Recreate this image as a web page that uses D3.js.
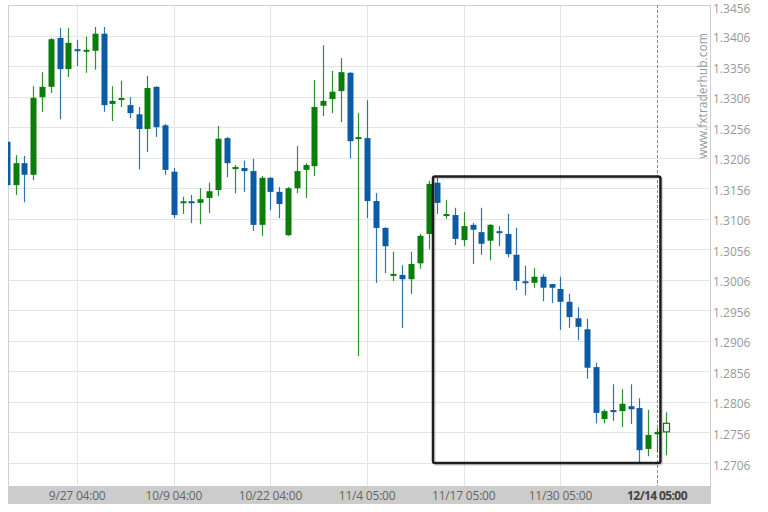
<!DOCTYPE html>
<html><head><meta charset="utf-8">
<script src="https://cdn.jsdelivr.net/npm/d3@7"></script>
<style>html,body{margin:0;padding:0;background:#fff;}svg{display:block;font-family:"Open Sans",sans-serif;}</style>
</head><body><svg id="c" width="768" height="512"></svg>
<script>
const openP = [1.3232,1.3161,1.3197,1.3178,1.3305,1.3322,1.3402,1.3351,1.3382,1.3379,1.3381,1.3409,1.3294,1.3299,1.3292,1.3277,1.3253,1.3322,1.3259,1.3183,1.3132,1.3133,1.3132,1.3140,1.3153,1.3238,1.3187,1.3189,1.3184,1.3096,1.3173,1.3150,1.3079,1.3156,1.3186,1.3192,1.3291,1.3302,1.3315,1.3345,1.3235,1.3238,1.3135,1.3091,1.3011,1.3014,1.3007,1.3033,1.3081,1.3165,1.3109,1.3112,1.3071,1.3096,1.3084,1.3070,1.3084,1.3081,1.3047,1.3002,1.3001,1.3011,1.2999,1.2991,1.2970,1.2943,1.2925,1.2863,1.2778,1.2791,1.2791,1.2799,1.2796,1.2729,1.2753,1.2757];
const highP = [1.3235,1.3210,1.3209,1.3323,1.3346,1.3402,1.3418,1.3418,1.3399,1.3404,1.3420,1.3420,1.3323,1.3332,1.3305,1.3289,1.3340,1.3323,1.3261,1.3189,1.3142,1.3145,1.3156,1.3165,1.3258,1.3240,1.3194,1.3201,1.3204,1.3176,1.3174,1.3158,1.3158,1.3225,1.3197,1.3333,1.3390,1.3348,1.3369,1.3346,1.3279,1.3300,1.3148,1.3092,1.3052,1.3030,1.3052,1.3081,1.3168,1.3173,1.3137,1.3124,1.3117,1.3099,1.3124,1.3097,1.3094,1.3114,1.3091,1.3029,1.3025,1.3015,1.2999,1.3011,1.2983,1.2961,1.2942,1.2870,1.2794,1.2835,1.2827,1.2835,1.2812,1.2793,1.2763,1.2789];
const lowP = [1.3160,1.3145,1.3133,1.3169,1.3281,1.3312,1.3269,1.3338,1.3356,1.3345,1.3350,1.3281,1.3266,1.3289,1.3271,1.3187,1.3215,1.3240,1.3178,1.3107,1.3114,1.3099,1.3097,1.3115,1.3143,1.3174,1.3148,1.3150,1.3086,1.3078,1.3120,1.3107,1.3078,1.3148,1.3140,1.3176,1.3274,1.3279,1.3264,1.3205,1.2881,1.3107,1.3001,1.3017,1.3004,1.2927,1.2983,1.3024,1.3056,1.3114,1.3106,1.3063,1.3061,1.3032,1.3047,1.3038,1.3061,1.3043,1.2989,1.2981,1.2993,1.2971,1.2968,1.2924,1.2927,1.2907,1.2844,1.2771,1.2771,1.2775,1.2765,1.2770,1.2706,1.2717,1.2724,1.2719];
const closeP = [1.3161,1.3197,1.3178,1.3304,1.3322,1.3400,1.3351,1.3394,1.3379,1.3381,1.3409,1.3292,1.3299,1.3302,1.3279,1.3253,1.3320,1.3256,1.3186,1.3112,1.3133,1.3132,1.3138,1.3151,1.3237,1.3197,1.3189,1.3184,1.3096,1.3173,1.3150,1.3130,1.3156,1.3184,1.3194,1.3289,1.3299,1.3314,1.3346,1.3233,1.3238,1.3135,1.3091,1.3061,1.3014,1.3007,1.3032,1.3078,1.3163,1.3132,1.3112,1.3073,1.3094,1.3088,1.3065,1.3096,1.3083,1.3048,1.3004,1.3001,1.3011,1.2993,1.2993,1.2970,1.2945,1.2929,1.2862,1.2788,1.2791,1.2789,1.2803,1.2794,1.2727,1.2752,1.2757,1.2771];
const xTickIndex = [8,19,30,41,52,63,74];
const xTickLabels = ["9/27 04:00","10/9 04:00","10/22 04:00","11/4 05:00","11/17 05:00","11/30 05:00","12/14 05:00"];
const yTicks = [1.2706,1.2756,1.2806,1.2856,1.2906,1.2956,1.3006,1.3056,1.3106,1.3156,1.3206,1.3256,1.3306,1.3356,1.3406,1.3456];
const patternStart = 49, patternEnd = 74;
const patternHigh = 1.3175, patternLow = 1.2706;
const currentIndex = 74;
const watermark = "www.fxtraderhub.com";

const candles = openP.map((o,i)=>({i, o, h:highP[i], l:lowP[i], c:closeP[i]}));
const svg = d3.select("#c");
const L=8, R=710, T=5, B=486;
const x = d3.scaleLinear().domain([0,75]).range([6.9,665.8]);
const y = d3.scaleLinear().domain([1.2706,1.3456]).range([463,5]);
const UP="#0a7d0a", DN="#0b5ca4";

svg.append("defs").append("clipPath").attr("id","pc").append("rect").attr("x",L).attr("y",T).attr("width",R-L).attr("height",B-T);

// grid
const g = svg.append("g");
g.selectAll(".hg").data(yTicks).join("line").attr("x1",L).attr("x2",R)
  .attr("y1",d=>Math.round(y(d))+0.5).attr("y2",d=>Math.round(y(d))+0.5).attr("stroke","#e5e5e5").attr("stroke-width",1);
g.selectAll(".vg").data(xTickIndex.filter(d=>d!==currentIndex)).join("line").attr("y1",T).attr("y2",B)
  .attr("x1",d=>Math.round(x(d))+0.5).attr("x2",d=>Math.round(x(d))+0.5).attr("stroke","#e5e5e5");
// frame
svg.append("line").attr("x1",L+0.5).attr("x2",L+0.5).attr("y1",T).attr("y2",B).attr("stroke","#d0d0d0");
svg.append("line").attr("x1",L).attr("x2",R).attr("y1",T+0.5).attr("y2",T+0.5).attr("stroke","#d0d0d0");
svg.append("line").attr("x1",R+0.5).attr("x2",R+0.5).attr("y1",T).attr("y2",B).attr("stroke","#cfcfcf");
// y labels
svg.selectAll(".yl").data(yTicks).join("text").attr("x",713).attr("y",d=>Math.max(13, y(d)+6.5))
  .attr("font-size",12).attr("fill","#999").text(d=>d.toFixed(4));
// watermark
svg.append("text").attr("transform","translate(707,96) rotate(-90)").attr("text-anchor","middle")
  .attr("font-size",12).attr("fill","#999").text(watermark);

// dashed current line
svg.append("line").attr("x1",Math.round(x(currentIndex))+0.5).attr("x2",Math.round(x(currentIndex))+0.5)
  .attr("y1",T).attr("y2",B).attr("stroke","#8a8a8a").attr("stroke-dasharray","3,2");

// candles
const cg = svg.append("g").attr("clip-path","url(#pc)");
const last = candles.length-1;
cg.selectAll(".w").data(candles).join("line")
  .attr("x1",d=>Math.round(x(d.i))+0.5).attr("x2",d=>Math.round(x(d.i))+0.5)
  .attr("y1",d=>y(d.h)).attr("y2",d=>y(d.l))
  .attr("stroke",d=>d.c>=d.o?UP:DN).attr("stroke-width",1.2).attr("opacity",0.85);
cg.selectAll(".b").data(candles).join("rect")
  .attr("x",d=>Math.round(x(d.i))-2.5).attr("width",6)
  .attr("y",d=>Math.min(y(d.o),y(d.c)) - (Math.abs(y(d.o)-y(d.c))<2?1:0))
  .attr("height",d=>Math.max(2,Math.abs(y(d.o)-y(d.c))))
  .attr("fill",d=>d.i===last?"#fff":(d.c>=d.o?UP:DN))
  .attr("stroke",d=>d.i===last?UP:"none").attr("stroke-width",1.2);

// pattern box
const bx0 = x(patternStart)-4.4, bx1 = x(patternEnd)+3.4;
svg.append("rect").attr("x",bx0+1.5).attr("y",y(patternHigh)+1.5).attr("width",bx1-bx0).attr("height",y(patternLow)-y(patternHigh))
  .attr("fill","none").attr("stroke","#000").attr("stroke-opacity",0.15).attr("stroke-width",2.5).attr("rx",2);
svg.append("rect").attr("x",bx0).attr("y",y(patternHigh)).attr("width",bx1-bx0).attr("height",y(patternLow)-y(patternHigh))
  .attr("fill","none").attr("stroke","#1e1e1e").attr("stroke-width",2.5).attr("rx",2);

// x band
svg.append("rect").attr("x",L).attr("y",B).attr("width",R-L+1).attr("height",18).attr("fill","#cccccc");
svg.selectAll(".xl").data(xTickIndex).join("text")
  .attr("x",d=>x(d)).attr("y",B+14).attr("text-anchor","middle").attr("font-size",12)
  .attr("fill",(d,i)=>i===xTickIndex.length-1?"#444":"#666")
  .attr("font-weight",(d,i)=>i===xTickIndex.length-1?"bold":"normal")
  .attr("letter-spacing",(d,i)=>i===xTickIndex.length-1?"-0.6":"-0.2")
  .text((d,i)=>xTickLabels[i]);
</script></body></html>
